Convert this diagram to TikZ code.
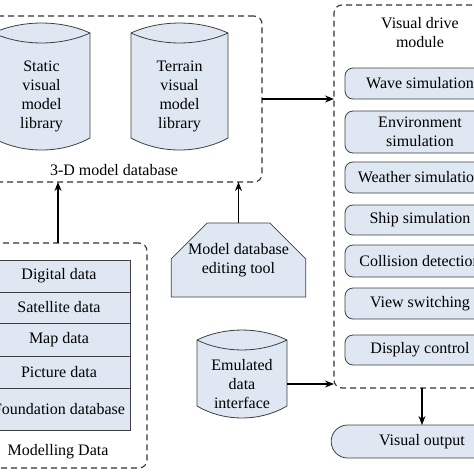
\documentclass[tikz,border=0pt]{standalone}
\usepackage{fontspec}
\setmainfont{Liberation Serif}
\usetikzlibrary{positioning,calc,backgrounds,shapes.misc,arrows.meta}

\newlength{\du}
\setlength{\du}{1pt}

\definecolor{dialinecolor}{rgb}{0.250000, 0.250000, 0.250000}
\definecolor{diafillcolor}{rgb}{0.875000, 0.906000, 0.953000}
\definecolor{dashcolor}{rgb}{0.200000, 0.200000, 0.200000}

\tikzset{
  every node/.style={font=\fontsize{16}{19}\selectfont, inner sep=0pt, outer sep=0pt},
  groupbox/.style={draw=dashcolor, line width=1.1\du, dash pattern=on 6\du off 4\du, rounded corners=8\du},
  datarow/.style={draw=dialinecolor, fill=diafillcolor, line width=0.8\du, minimum width=142\du},
  simbox/.style={draw=dialinecolor, fill=diafillcolor, line width=0.8\du, rounded corners=8\du, minimum width=150\du, align=center},
  drumarea/.style={align=center},
  drum/.style={draw=dialinecolor, fill=diafillcolor, line width=0.8\du},
  link/.style={draw=black, line width=1.2pt, -{Stealth[length=9pt,width=7pt]}},
}

% drum outline round a text node
\newcommand{\drumback}[1]{%
  \path ($(#1.north west)+(0,-10)$) coordinate (#1-tl)
        ($(#1.north east)+(0,-10)$) coordinate (#1-tr)
        ($(#1.south west)+(0,-12)$) coordinate (#1-bl)
        ($(#1.south east)+(0,-12)$) coordinate (#1-br);
  \path[drum] (#1-tl) .. controls ($(#1-tl)!0.3!(#1-tr)+(0,-13.3)$) and ($(#1-tl)!0.7!(#1-tr)+(0,-13.3)$) .. (#1-tr)
    -- (#1-br) .. controls ($(#1-bl)!0.7!(#1-br)+(0,16)$) and ($(#1-bl)!0.3!(#1-br)+(0,16)$) .. (#1-bl) -- cycle;
  \draw[drum, fill=none] (#1-tl) .. controls ($(#1-tl)!0.3!(#1-tr)+(0,13.3)$) and ($(#1-tl)!0.7!(#1-tr)+(0,13.3)$) .. (#1-tr);
}

\begin{document}
\begin{tikzpicture}[x=1\du, y=-1\du]
\useasboundingbox (0,0) rectangle (474,474);
\clip (0,0) rectangle (474,474);

% 3-D model database
\node[groupbox, minimum width=282\du, minimum height=166\du] (modeldb) at (121,99) {};
\node[drumarea, minimum width=97\du, minimum height=107\du] (statlib) at (41.5,96.5) {Static\\visual\\model\\library};
\node[drumarea, minimum width=97\du, minimum height=107\du] (terrlib) at (179.5,96.5) {Terrain\\visual\\model\\library};
\node (modeldblabel) at (114,170) {3-D model database};

% modelling data
\node[groupbox, minimum width=178\du, minimum height=225\du] (mdldata) at (58,355.5) {};
\node[datarow, minimum height=32\du] (digdata) at (59,276) {Digital data};
\node[datarow, minimum height=31\du, below=0pt of digdata] (satdata) {Satellite data};
\node[datarow, minimum height=33\du, below=0pt of satdata] (mapdata) {Map data};
\node[datarow, minimum height=32\du, below=0pt of mapdata] (picdata) {Picture data};
\node[datarow, minimum height=42\du, below=0pt of picdata] (founddata) {Foundation database};
\node (mdllabel) at (58,452) {Modelling Data};

% tools in the middle
\node[chamfered rectangle, chamfered rectangle corners={north west,north east},
      chamfered rectangle xsep=18pt, chamfered rectangle ysep=19pt,
      draw=dialinecolor, fill=diafillcolor, line width=0.8\du,
      minimum width=123\du, minimum height=74\du, align=center] (edittool) at (238.5,260) {Model database\\editing tool};
\node[drumarea, minimum width=90\du, minimum height=68\du] (emudata) at (242,384) {Emulated\\data\\interface};

% visual drive module
\node[groupbox, minimum width=176\du, minimum height=383\du] (drivemod) at (422,196.5) {};
\node[align=center] (drivelabel) at (420,33) {Visual drive\\module};
\node[simbox, minimum height=31\du] (wavesim) at (420,83.5) {Wave simulation};
\node[simbox, minimum height=42\du] (envsim) at (420,132) {Environment\\simulation};
\node[simbox, minimum height=31\du] (weathersim) at (420,177.5) {Weather simulation};
\node[simbox, minimum height=30\du] (shipsim) at (420,220) {Ship simulation};
\node[simbox, minimum height=32\du] (collsim) at (420,261) {Collision detection};
\node[simbox, minimum height=31\du] (viewsw) at (420,303.5) {View switching};
\node[simbox, minimum height=30\du] (dispctl) at (420,350) {Display control};

\node[rounded rectangle, rounded rectangle right arc=none, draw=dialinecolor, fill=diafillcolor, line width=0.8\du,
      minimum width=180\du, minimum height=33\du] (visout) at (422,441.5) {Visual output};

\begin{scope}[on background layer]
\drumback{statlib}
\drumback{terrlib}
\drumback{emudata}
\end{scope}

% connectors
\draw[link] (mdldata.north) -- (mdldata.north |- modeldb.south);
\draw[link] (edittool.north) -- (edittool.north |- modeldb.south);
\draw[link] (modeldb.east) -- (modeldb.east -| drivemod.west);
\draw[link] (emudata.east) -- (emudata.east -| drivemod.west);
\draw[link] (drivemod.south) -- (visout.north);
\end{tikzpicture}
\end{document}
